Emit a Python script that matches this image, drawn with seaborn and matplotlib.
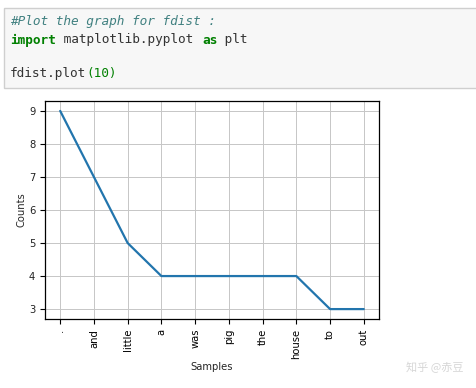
import matplotlib
matplotlib.use("Agg")
import matplotlib.pyplot as plt
import seaborn as sns
import pandas as pd

samples = [".", "and", "little", "a", "was", "pig", "the", "house", "to", "out"]
counts = [9, 7, 5, 4, 4, 4, 4, 4, 3, 3]

sns.set_style("ticks")
plt.rcParams["font.family"] = ["DejaVu Sans", "Noto Sans CJK SC"]

W, H = 476, 388
fig = plt.figure(figsize=(W / 100, H / 100), dpi=100)
fig.patch.set_facecolor("white")

# code cell box
from matplotlib.patches import Rectangle
fig.patches.append(Rectangle((4 / W, 1 - 88 / H), (W - 3) / W, 80 / H,
                             transform=fig.transFigure, facecolor="#f7f7f7",
                             edgecolor="#cfcfcf", linewidth=1))

cw = 7.68  # char width px
fs = 9.2
def seg(col, row_y, text, color="#333333", weight="normal", style="normal"):
    fig.text((10 + col * cw) / W, 1 - row_y / H, text, fontsize=fs,
             family="DejaVu Sans Mono", color=color, weight=weight,
             style=style, va="center", ha="left")

seg(0, 22, "#Plot the graph for fdist :", color="#408080", style="italic")
seg(0, 40, "import", color="#008000", weight="bold")
seg(6, 40, " matplotlib.pyplot ")
seg(25, 40, "as", color="#008000", weight="bold")
seg(27, 40, " plt")
seg(0, 73, "fdist.plot")
seg(10, 73, "(10)", color="#008000")

ax = fig.add_axes([45 / W, (H - 319) / H, 334 / W, 218 / H])
df = pd.DataFrame({"Samples": samples, "Counts": counts})
sns.lineplot(data=df, x="Samples", y="Counts", sort=False, ax=ax,
             color="#2275ad", linewidth=1.6)
ax.set_xlim(-0.45, len(samples) - 1 + 0.45)
ax.set_ylim(2.7, 9.3)
ax.grid(True, color="#c6c6c6", linewidth=0.7)
ax.set_axisbelow(True)
for s in ax.spines.values():
    s.set_visible(True)
    s.set_color("black")
    s.set_linewidth(0.9)
ax.tick_params(labelsize=7.2, length=3.5, width=0.8, colors="black")
ax.tick_params(axis="y", labelcolor="#222222")
ax.set_xticks(range(len(samples)))
ax.set_xticklabels(samples, rotation=90)
ax.set_xlabel("Samples", fontsize=7.2, labelpad=2)
ax.set_ylabel("Counts", fontsize=7.2, labelpad=2)

fig.text(435 / W, 1 - 367 / H, "知乎 @赤豆", fontsize=8, color="#d6d6d6",
         family=["Noto Sans CJK SC", "DejaVu Sans"], ha="center", va="center")

fig.savefig("out.png", dpi=100)
